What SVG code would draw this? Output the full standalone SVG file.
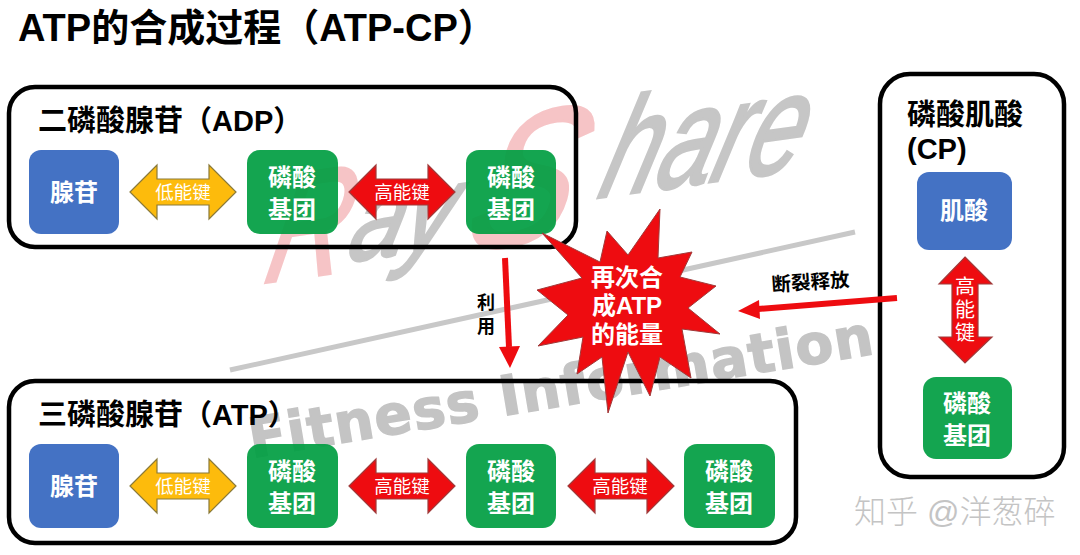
<svg xmlns="http://www.w3.org/2000/svg" width="1080" height="555" viewBox="0 0 1080 555">
<style>
text{font-family:"Liberation Sans","Noto Sans CJK SC",sans-serif}
.box{fill:none;stroke:#000;stroke-width:4.5}
.blue{fill:#3a6ac1;fill-opacity:.95}
.green{fill:#009d41;fill-opacity:.92}
.t{fill:#000;font-weight:700;font-size:29px}
.n{fill:#fff;font-weight:700;font-size:24px;text-anchor:middle}
.b{fill:#fff;font-size:18.5px;text-anchor:middle}
.y{fill:#fdbb0c;stroke:#8a7a3a;stroke-width:1.2}
.r{fill:#ee0c10;stroke:#a03a3a;stroke-width:1.2}
.l{fill:#000;font-weight:700;font-size:18px;text-anchor:middle}
.ln{stroke:#ee0c10;stroke-width:6;fill:none}
.wm{fill:#c4c4c4;stroke:#c4c4c4;stroke-width:1.5;font-weight:700;font-size:55px;letter-spacing:1.3px;font-family:"DejaVu Sans","Liberation Sans",sans-serif}
.ws{font-family:"Liberation Sans",sans-serif;font-style:italic;stroke-width:3}
.pk{fill:#f6c4c6;stroke:#f6c4c6}
.gy{fill:#c6c6c6;stroke:#c6c6c6}
</style>
<defs>
<polygon id="harrow" points="-53,0 -26,-27 -26,-13 26,-13 26,-27 53,0 26,27 26,13 -26,13 -26,27"/>
</defs>
<rect width="1080" height="555" fill="#fff"/>
<g id="watermark">
<line x1="230" y1="370" x2="855" y2="232" stroke="#c8c8c8" stroke-width="5"/>
<text class="wm" transform="translate(252,458) rotate(-9.5)">Fitness Information</text>
<text class="ws pk" transform="translate(262,283) rotate(-8) skewX(-20) scale(.75,1)" font-size="150">R</text>
<text class="ws gy" transform="translate(345,262) rotate(-8) skewX(-22) scale(.85,1)" font-size="115">ay</text>
<text class="ws pk" transform="translate(460,252) rotate(-8) skewX(-24) scale(.85,1)" font-size="185">S</text>
<text class="ws gy" transform="translate(596,198) rotate(-8) skewX(-24) scale(.75,1)" font-size="135">hare</text>
</g>
<text id="title" x="18" y="41" style="font-weight:700;font-size:38px">ATP的合成过程（ATP-CP）</text>
<g id="adp">
<rect class="box" x="9" y="87" width="567" height="160" rx="26"/>
<text class="t" x="38" y="131">二磷酸腺苷（ADP）</text>
</g>
<g id="atp">
<rect class="box" x="9" y="381" width="787" height="162" rx="26"/>
<text class="t" x="38" y="425">三磷酸腺苷（ATP）</text>
</g>
<g id="cp">
<rect class="box" x="880" y="74" width="184" height="403" rx="30"/>
<text class="t" x="907" y="125">磷酸肌酸</text>
<text class="t" x="907" y="159">(CP)</text>
</g>
<g id="adp-adenosine"><rect class="blue" x="29" y="150" width="90" height="84" rx="12"/><text class="n" x="74" y="201">腺苷</text></g>
<g id="adp-p1"><rect class="green" x="247" y="150" width="91" height="84" rx="13"/><text class="n" x="292" y="186">磷酸</text><text class="n" x="292" y="218">基团</text></g>
<g id="adp-p2"><rect class="green" x="466" y="150" width="90" height="84" rx="13"/><text class="n" x="511" y="186">磷酸</text><text class="n" x="511" y="218">基团</text></g>
<g id="atp-adenosine"><rect class="blue" x="29" y="444" width="90" height="84" rx="12"/><text class="n" x="74" y="495">腺苷</text></g>
<g id="atp-p1"><rect class="green" x="247" y="444" width="91" height="84" rx="13"/><text class="n" x="292" y="480">磷酸</text><text class="n" x="292" y="512">基团</text></g>
<g id="atp-p2"><rect class="green" x="466" y="444" width="90" height="84" rx="13"/><text class="n" x="511" y="480">磷酸</text><text class="n" x="511" y="512">基团</text></g>
<g id="atp-p3"><rect class="green" x="684" y="444" width="91" height="84" rx="13"/><text class="n" x="729" y="480">磷酸</text><text class="n" x="729" y="512">基团</text></g>
<g id="cp-creatine"><rect class="blue" x="917" y="172" width="95" height="78" rx="12"/><text class="n" x="964" y="219">肌酸</text></g>
<g id="cp-p"><rect class="green" x="923" y="377" width="89" height="82" rx="13"/><text class="n" x="967" y="412">磷酸</text><text class="n" x="967" y="444">基团</text></g>
<g id="connectors">
<use href="#harrow" class="y" x="183" y="192"/>
<use href="#harrow" class="r" x="402" y="192"/>
<use href="#harrow" class="y" x="183" y="486"/>
<use href="#harrow" class="r" x="402" y="486"/>
<use href="#harrow" class="r" x="621" y="486"/>
<polygon class="r" points="965,257 992,284 978,284 978,337 992,337 965,363 939,337 952,337 952,284 939,284"/>
<line class="ln" x1="505" y1="258" x2="509" y2="347"/>
<polygon fill="#ee0c10" points="499,347 520,346 510,368"/>
<line class="ln" x1="897" y1="298" x2="758" y2="309"/>
<polygon fill="#ee0c10" points="738,311 759,300 760,319"/>
</g>
<g id="labels">
<text class="b" x="183" y="199">低能键</text>
<text class="b" x="402" y="199">高能键</text>
<text class="b" x="183" y="493">低能键</text>
<text class="b" x="402" y="493">高能键</text>
<text class="b" x="620" y="493">高能键</text>
<text class="b" x="965" y="294" style="font-size:20px">高</text>
<text class="b" x="965" y="317" style="font-size:20px">能</text>
<text class="b" x="965" y="340" style="font-size:20px">键</text>
<text class="l" x="486" y="309">利</text>
<text class="l" x="486" y="333">用</text>
<text class="l" transform="translate(811,289) rotate(-4)" style="font-size:19.5px">断裂释放</text>
</g>
<g id="burst">
<polygon fill="#ee0c10" stroke="#a03a3a" points="660,209 658,258 692,252 680,277 716,286 688,308 720,334 682,329 691,378 660,357 650,396 628,352 608,413 602,357 577,374 583,337 538,346 568,315 537,290 582,278 542,233 600,262 607,231 628,255"/>
<text class="n" x="627" y="286">再次合</text>
<text class="n" x="627" y="314">成ATP</text>
<text class="n" x="627" y="343">的能量</text>
</g>
<text id="credit" x="854" y="523" fill="#c4c4c4" font-size="32" style="font-weight:300">知乎 @洋葱碎</text>
</svg>
